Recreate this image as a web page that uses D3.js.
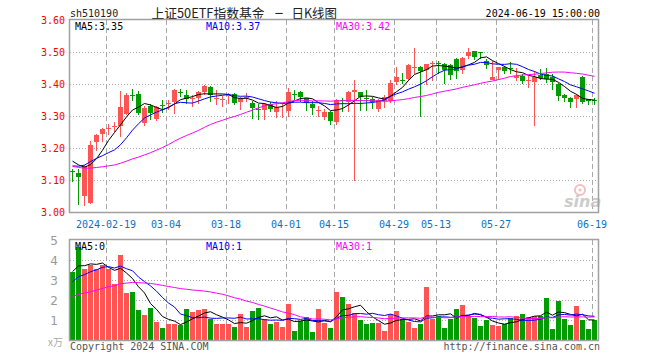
<!DOCTYPE html>
<html>
<head>
<meta charset="utf-8">
<script src="https://cdn.jsdelivr.net/npm/d3@7/dist/d3.min.js"></script>
<style>
body { margin:0; background:#fff; }
svg text { font-family:"DejaVu Sans Mono", monospace; font-size:10px; }
</style>
</head>
<body>
<script>
// trading days shown on the chart
var days = ["02-01","02-02","02-05","02-06","02-07","02-08","02-19","02-20","02-21","02-22","02-23","02-26","02-27","02-28","02-29",
	"03-01","03-04","03-05","03-06","03-07","03-08","03-11","03-12","03-13","03-14","03-15","03-18","03-19","03-20","03-21","03-22","03-25","03-26","03-27","03-28","03-29",
	"04-01","04-02","04-03","04-08","04-09","04-10","04-11","04-12","04-15","04-16","04-17","04-18","04-19","04-22","04-23","04-24","04-25","04-26","04-29","04-30",
	"05-06","05-07","05-08","05-09","05-10","05-13","05-14","05-15","05-16","05-17","05-20","05-21","05-22","05-23","05-24","05-27","05-28","05-29","05-30","05-31",
	"06-03","06-04","06-05","06-06","06-07","06-11","06-12","06-13","06-14","06-17","06-18","06-19"];

var open = [3.128,3.123,3.049,3.030,3.221,3.242,3.262,3.266,3.269,3.308,3.367,3.370,3.276,3.330,3.292,3.333,3.340,3.342,3.376,3.366,
	3.353,3.355,3.375,3.392,3.353,3.352,3.365,3.370,3.344,3.356,3.342,3.322,3.316,3.339,3.314,3.338,3.316,3.369,3.376,3.355,
	3.339,3.315,3.299,3.314,3.279,3.350,3.344,3.374,3.374,3.356,3.352,3.321,3.347,3.347,3.406,3.412,3.415,3.452,3.454,3.441,
	3.465,3.467,3.464,3.458,3.479,3.443,3.488,3.503,3.500,3.472,3.415,3.444,3.454,3.450,3.420,3.425,3.410,3.406,3.428,3.430,
	3.423,3.401,3.366,3.357,3.352,3.421,3.352,3.350];
var high = [3.135,3.133,3.146,3.222,3.245,3.261,3.276,3.281,3.378,3.373,3.383,3.378,3.331,3.336,3.331,3.350,3.349,3.383,3.385,3.381,
	3.366,3.378,3.396,3.394,3.381,3.363,3.371,3.373,3.360,3.373,3.347,3.339,3.340,3.344,3.348,3.341,3.386,3.381,3.378,3.357,
	3.347,3.330,3.321,3.317,3.352,3.355,3.377,3.411,3.374,3.381,3.360,3.352,3.366,3.411,3.453,3.435,3.464,3.514,3.456,3.464,
	3.472,3.472,3.467,3.461,3.482,3.485,3.514,3.503,3.501,3.477,3.472,3.454,3.456,3.470,3.451,3.430,3.425,3.441,3.446,3.451,
	3.430,3.404,3.368,3.360,3.368,3.424,3.354,3.355];
var low = [3.097,3.024,3.021,3.028,3.193,3.222,3.245,3.253,3.237,3.305,3.349,3.305,3.272,3.292,3.289,3.313,3.321,3.310,3.362,3.342,
	3.331,3.340,3.368,3.347,3.336,3.331,3.342,3.339,3.323,3.347,3.295,3.292,3.292,3.316,3.297,3.297,3.300,3.352,3.347,3.319,
	3.305,3.299,3.290,3.274,3.276,3.315,3.315,3.099,3.320,3.320,3.326,3.317,3.328,3.345,3.399,3.404,3.411,3.435,3.299,3.399,
	3.412,3.435,3.404,3.415,3.418,3.435,3.482,3.477,3.480,3.449,3.415,3.415,3.435,3.435,3.412,3.404,3.390,3.272,3.415,3.406,
	3.383,3.349,3.347,3.329,3.328,3.341,3.337,3.337];
var close = [3.125,3.111,3.144,3.210,3.242,3.258,3.264,3.268,3.329,3.367,3.365,3.310,3.324,3.307,3.328,3.331,3.342,3.380,3.374,3.352,
	3.355,3.374,3.393,3.368,3.355,3.354,3.367,3.343,3.355,3.358,3.326,3.320,3.336,3.323,3.329,3.340,3.376,3.367,3.360,3.340,
	3.326,3.318,3.314,3.287,3.349,3.348,3.374,3.380,3.357,3.354,3.342,3.350,3.360,3.404,3.423,3.410,3.458,3.454,3.441,3.461,
	3.467,3.465,3.446,3.428,3.443,3.482,3.500,3.485,3.498,3.459,3.423,3.454,3.441,3.448,3.425,3.409,3.412,3.422,3.418,3.415,
	3.406,3.365,3.357,3.344,3.366,3.344,3.347,3.348];
var volume = [3.42,4.63,3.55,3.75,3.55,3.77,3.55,2.8,4.27,2.35,2.4,1.5,1.25,1.62,0.9,0.6,0.8,0.8,0.75,1.55,
	1.4,1.5,1.55,1.07,0.8,0.8,0.8,0.65,1.3,0.65,1.45,1.6,1.05,0.8,0.9,0.65,1.8,0.45,0.95,1.15,
	0.4,1.55,0.85,0.6,2.4,2.15,1.8,1.35,1.0,0.8,0.85,0.85,0.45,1.3,1.45,1.05,0.9,0.6,0.8,2.65,
	1.05,1.2,0.6,1.05,1.55,1.75,1.2,1.1,0.7,1.0,0.75,0.7,0.8,1.1,1.2,1.3,1.15,1.2,1.2,2.1,
	0.55,1.95,1.05,0.75,1.7,1.0,0.55,1.0];

// sessions before the visible window, only used to start the moving averages
var histClose = [3.22,3.21,3.20,3.19,3.19,3.18,3.18,3.17,3.17,3.155,3.14,3.12,3.10,3.09,3.08,3.07,3.06,3.09,3.10,3.13,
	3.12,3.11,3.10,3.14,3.175,3.17,3.18,3.17,3.15];
var histVolume = [1.5,1.4,1.6,1.3,1.2,1.1,1.3,1.2,1.4,1.32,1.8,2.0,2.1,2.3,2.2,2.4,2.3,2.5,2.4,2.58,
	2.2,2.5,2.3,2.6,2.5,3.2,3.5,3.3,3.68];

var priceTicks = [3.00,3.10,3.20,3.30,3.40,3.50,3.60];
var volTicks = [1,2,3,4,5];
var tickDays = ["02-19","03-04","03-18","04-01","04-15","04-29","05-13","05-27","06-19"];
var tickLabels = ["2024-02-19","03-04","03-18","04-01","04-15","04-29","05-13","05-27","06-19"];
var maPeriods = [5,10,30];
var maColors = ["#000","#00f","#f0f"];
var priceMaLabels = ["MA5:3.35","MA10:3.37","MA30:3.42"];
var volMaLabels = ["MA5:0","MA10:1","MA30:1"];
var titleParts = ["上证50ETF指数基金","一","日K线图"];

var red = "#ff5454", green = "#009c00", gridColor = "#a8a8a8", borderColor = "#a0a0a0";
var left = 70, right = 598;
var main = {top:20, bottom:212};
var vol = {top:240, bottom:340};

var svg = d3.select("body").append("svg")
	.attr("width",660)
	.attr("height",360);

var x = d3.scaleBand().domain(days).range([left, right]).paddingInner(0).paddingOuter(0);
var y = d3.scaleLinear().domain([3.0,3.6]).range([main.bottom, main.top]);
var yv = d3.scaleLinear().domain([0,5]).range([vol.bottom, vol.top]);
var bodyW = x.bandwidth() - 1;
function cx(d){ return x(d) + bodyW/2; }

function movingAvg(hist, vals, n){
	var all = hist.concat(vals);
	return vals.map(function(v,i){
		var end = hist.length + i;
		return d3.mean(all.slice(end-n+1, end+1));
	});
}

// header
svg.append("text").attr("x",70).attr("y",17).attr("fill","#222").text("sh510190");
var titleX = [151.5, 275, 291.5], titleLen = [113, 8, 45.5];
svg.append("g").selectAll("text").data(titleParts).enter().append("text")
	.attr("x",function(d,i){ return titleX[i]; }).attr("y",18)
	.attr("textLength",function(d,i){ return titleLen[i]; }).attr("lengthAdjust","spacingAndGlyphs")
	.style("font-family","'Noto Sans CJK SC', sans-serif").style("font-size","13px")
	.attr("fill","#222").text(function(d){ return d; });
svg.append("text").attr("x",600).attr("y",17).attr("text-anchor","end").attr("fill","#000").text("2024-06-19 15:00:00");

// grids
function drawGrid(top, bottom, hVals, scale){
	var g = svg.append("g").attr("shape-rendering","crispEdges");
	g.selectAll("line.h").data(hVals).enter().append("line")
		.attr("x1",left).attr("x2",right)
		.attr("y1",function(d){ return Math.round(scale(d))+0.5; })
		.attr("y2",function(d){ return Math.round(scale(d))+0.5; })
		.attr("stroke",gridColor).attr("stroke-dasharray","1,2");
	g.selectAll("line.v").data(tickDays).enter().append("line")
		.attr("x1",function(d){ return x(d)+0.5; })
		.attr("x2",function(d){ return x(d)+0.5; })
		.attr("y1",top).attr("y2",bottom)
		.attr("stroke",gridColor).attr("stroke-dasharray","5,3");
}
drawGrid(main.top, main.bottom, [3.1,3.2,3.3,3.4,3.5], y);
drawGrid(vol.top, vol.bottom, [1,2,3,4], yv);

// price axis labels
svg.append("g").selectAll("text").data(priceTicks).enter().append("text")
	.attr("x",65).attr("y",function(d){ return y(d)+4; })
	.attr("text-anchor","end").attr("fill","#f00")
	.text(function(d){ return d.toFixed(2); });

// date labels
svg.append("g").selectAll("text").data(tickDays).enter().append("text")
	.attr("x",function(d){ return x(d); })
	.attr("y",228).attr("text-anchor","middle").attr("fill","#0a72c6")
	.text(function(d,i){ return tickLabels[i]; });

// volume axis labels
svg.append("g").selectAll("text").data(volTicks).enter().append("text")
	.attr("x",58).attr("y",function(d){ return yv(d)+5; })
	.attr("text-anchor","end").attr("fill","#999")
	.style("font-family","'DejaVu Sans', sans-serif").style("font-size","12px")
	.text(function(d){ return d; });
svg.append("text").attr("x",63).attr("y",346).attr("text-anchor","end").attr("fill","#aaa")
	.style("font-family","'Noto Sans CJK SC', sans-serif").style("font-size","10px").text("x万");

// sina logo
var logo = svg.append("g").attr("opacity",0.85);
logo.append("circle").attr("cx",580).attr("cy",190).attr("r",5).attr("fill","none").attr("stroke","#f2b4b4").attr("stroke-width",2);
logo.append("circle").attr("cx",580).attr("cy",190).attr("r",1.5).attr("fill","#f2b4b4");
logo.append("text").attr("x",564).attr("y",207).attr("fill","#c4c4c4")
	.style("font-family","'DejaVu Sans', sans-serif").style("font-size","16px")
	.style("font-weight","bold").style("font-style","italic").text("sina");

// candles
var idx = d3.range(days.length);
var candles = svg.append("g").attr("shape-rendering","crispEdges")
	.selectAll("g").data(idx).enter().append("g");

candles.append("line")
	.attr("x1",function(i){ return x(days[i])+2.5; })
	.attr("x2",function(i){ return x(days[i])+2.5; })
	.attr("y1",function(i){ return Math.round(y(high[i])); })
	.attr("y2",function(i){ return Math.round(y(low[i]))+1; })
	.attr("stroke",function(i){ return close[i] >= open[i] ? red : green; });

candles.append("rect")
	.attr("x",function(i){ return x(days[i]); })
	.attr("width",bodyW)
	.attr("y",function(i){ return Math.round(y(Math.max(open[i],close[i]))); })
	.attr("height",function(i){ return Math.max(1, Math.round(Math.abs(y(open[i])-y(close[i])))); })
	.attr("fill",function(i){ return close[i] >= open[i] ? red : green; });

// volume bars
svg.append("g").attr("shape-rendering","crispEdges")
	.selectAll("rect").data(idx).enter().append("rect")
	.attr("x",function(i){ return x(days[i]); })
	.attr("width",bodyW)
	.attr("y",function(i){ return Math.round(yv(volume[i])); })
	.attr("height",function(i){ return vol.bottom - Math.round(yv(volume[i])); })
	.attr("fill",function(i){ return close[i] >= open[i] ? red : green; });

// moving average lines
maPeriods.forEach(function(n,k){
	var pm = movingAvg(histClose, close, n);
	var vm = movingAvg(histVolume, volume, n);
	var lineP = d3.line().x(function(d,i){ return cx(days[i]); }).y(function(d){ return y(d); });
	var lineV = d3.line().x(function(d,i){ return cx(days[i]); }).y(function(d){ return yv(d); });
	svg.append("path").datum(pm).attr("d",lineP).attr("fill","none").attr("stroke",maColors[k]).attr("stroke-width",1);
	svg.append("path").datum(vm).attr("d",lineV).attr("fill","none").attr("stroke",maColors[k]).attr("stroke-width",1);
});

// borders
svg.append("rect").attr("x",left-0.5).attr("y",main.top-0.5).attr("width",right-left+1).attr("height",main.bottom-main.top+1)
	.attr("fill","none").attr("stroke",borderColor).attr("stroke-width",1.5);
svg.append("rect").attr("x",left-0.5).attr("y",vol.top-0.5).attr("width",right-left+1).attr("height",vol.bottom-vol.top+1)
	.attr("fill","none").attr("stroke",borderColor).attr("stroke-width",1.5);

// MA legends
var legendX = [75,206,336];
svg.append("g").selectAll("text").data(priceMaLabels).enter().append("text")
	.attr("x",function(d,i){ return legendX[i]; }).attr("y",30)
	.attr("fill",function(d,i){ return maColors[i]; }).text(function(d){ return d; });
svg.append("g").selectAll("text").data(volMaLabels).enter().append("text")
	.attr("x",function(d,i){ return legendX[i]; }).attr("y",250)
	.attr("fill",function(d,i){ return maColors[i]; }).text(function(d){ return d; });

// footer
svg.append("text").attr("x",70).attr("y",350).attr("fill","#555").text("Copyright 2024 SINA.COM");
svg.append("text").attr("x",600).attr("y",350).attr("text-anchor","end").attr("fill","#555").text("http://finance.sina.com.cn");
</script>
</body>
</html>
